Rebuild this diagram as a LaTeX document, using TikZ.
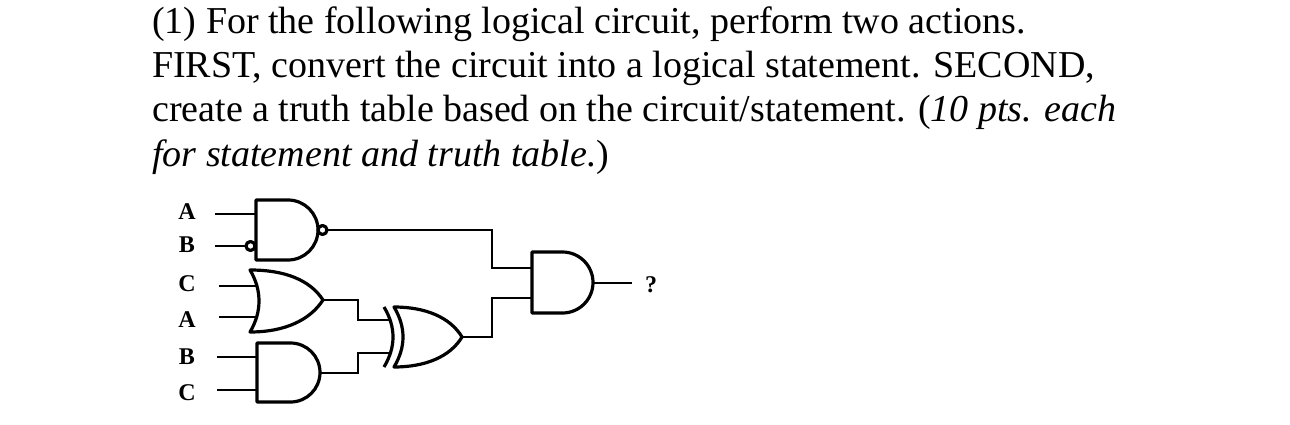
\documentclass[tikz,border=0pt]{standalone}
\usepackage{fontspec}
\setmainfont{Liberation Serif}
\newcommand{\andbody}[4]{% L T B R
  \pgfmathsetmacro{\rr}{(#3-#2)/2}\pgfmathsetmacro{\mx}{#4-\rr}\pgfmathsetmacro{\my}{(#2+#3)/2}\pgfmathsetmacro{\kk}{0.552*\rr}
  \draw[gate] (#1,#2) -- (\mx,#2) .. controls (\mx+\kk,#2) and (#4,\my-\kk) .. (#4,\my)
    .. controls (#4,\my+\kk) and (\mx+\kk,#3) .. (\mx,#3) -- (#1,#3) -- cycle;}
\begin{document}
\begin{tikzpicture}[x=1pt,y=-1pt,
  txt/.style={anchor=base west,inner sep=0pt,font=\fontsize{38}{44}\selectfont},
  lbl/.style={inner sep=0pt,font=\fontsize{24}{26}\selectfont\bfseries},
  gate/.style={line width=3.2pt,line join=round},
  wire/.style={line width=2.6pt}]
\useasboundingbox (0,0) rectangle (1290,425);
\node[txt] (l1) at (152,34) {(1) For the following logical circuit, perform two actions.};
\node[txt] (l2) at (152,78) {FIRST, convert the circuit into a logical statement. SECOND,};
\node[txt] (l3) at (152,122) {create a truth table based on the circuit/statement. (\textit{10 pts. each}};
\node[txt] (l4) at (152,166) {\textit{for statement and truth table.})};
% labels
\node[lbl] (iA1) at (187,212) {A};
\node[lbl] (iB1) at (187,245) {B};
\node[lbl] (iC1) at (187,284) {C};
\node[lbl] (iA2) at (187,320) {A};
\node[lbl] (iB2) at (187,357) {B};
\node[lbl] (iC2) at (187,393) {C};
% NAND
\andbody{256}{200}{260}{318}
\draw[gate] (322.5,230) circle (4.5);
\coordinate (nandout) at (327,230);
\draw[gate] (250.5,246) circle (4.5);
\coordinate (a1s) at (215,214);
\coordinate (b1s) at (215,246);
\draw[wire] (a1s) -- (256,214);
\draw[wire] (b1s) -- (246,246);
% OR
\draw[gate] (250,270) .. controls (285,270) and (310,280) .. (323,300)
  .. controls (310,320) and (285,332) .. (250,332)
  .. controls (262,312) and (262,290) .. (250,270) -- cycle;
\coordinate (c1s) at (219,286);
\coordinate (a2s) at (219,317);
\draw[wire] (c1s) -- (258,286);
\draw[wire] (a2s) -- (258,317);
% AND bottom
\andbody{257}{343}{402}{320}
\coordinate (b2s) at (217,357);
\coordinate (c2s) at (217,390);
\draw[wire] (b2s) -- (257,357);
\draw[wire] (c2s) -- (257,390);
% XOR
\draw[gate] (394,307) .. controls (425,307) and (450,317) .. (462,337)
  .. controls (450,357) and (425,367) .. (394,367)
  .. controls (406,347) and (406,327) .. (394,307) -- cycle;
\draw[gate] (384,307) .. controls (396,327) and (396,347) .. (384,367);
\draw[wire] (323,300) -- (358,300) -- (358,320) -- (390,320);
\draw[wire] (320,373) -- (358,373) -- (358,353) -- (390,353);
% final AND
\andbody{532}{252}{313}{593}
\draw[wire] (nandout) -- (492,230) -- (492,268) -- (532,268);
\draw[wire] (462,337) -- (492,337) -- (492,298) -- (532,298);
\coordinate (outend) at (632,283);
\draw[wire] (593,283) -- (outend);
\node[lbl] (q) at (651,285) {?};
\end{tikzpicture}
\end{document}
